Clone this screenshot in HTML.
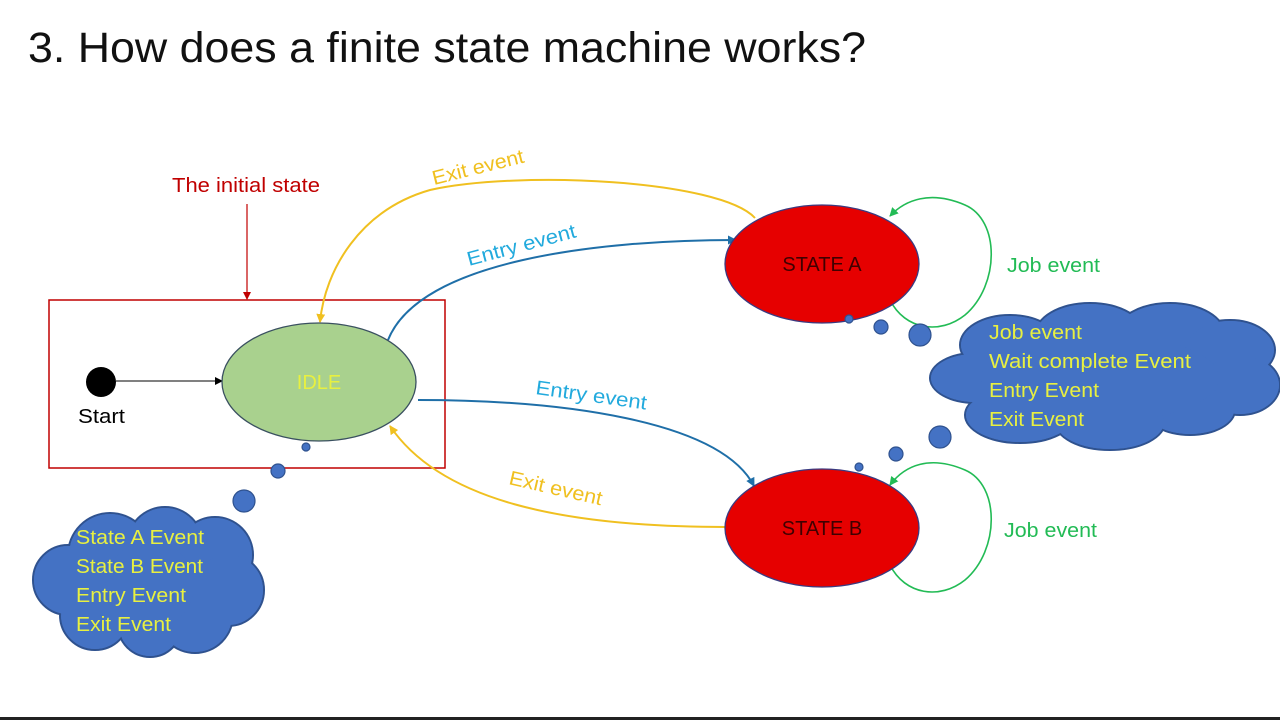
<!DOCTYPE html>
<html><head><meta charset="utf-8"><style>
html,body{margin:0;padding:0;background:#fff;}
svg{display:block;font-family:"Liberation Sans",sans-serif;}
</style></head><body>
<svg width="1280" height="720" viewBox="0 0 1280 720" xmlns="http://www.w3.org/2000/svg">
<defs>
<marker id="ab" markerWidth="8" markerHeight="8" refX="7" refY="4" orient="auto" markerUnits="userSpaceOnUse"><path d="M0,0 L8,4 L0,8z" fill="#000"/></marker>
<marker id="ar" markerWidth="8" markerHeight="8" refX="7" refY="4" orient="auto" markerUnits="userSpaceOnUse"><path d="M0,0 L8,4 L0,8z" fill="#c00000"/></marker>
<marker id="ay" markerWidth="9" markerHeight="9" refX="8" refY="4.5" orient="auto" markerUnits="userSpaceOnUse"><path d="M0,0 L9,4.5 L0,9z" fill="#f0c020"/></marker>
<marker id="au" markerWidth="9" markerHeight="9" refX="8" refY="4.5" orient="auto" markerUnits="userSpaceOnUse"><path d="M0,0 L9,4.5 L0,9z" fill="#1f6fa8"/></marker>
<marker id="ag" markerWidth="9" markerHeight="9" refX="8" refY="4.5" orient="auto" markerUnits="userSpaceOnUse"><path d="M0,0 L9,4.5 L0,9z" fill="#22bb55"/></marker>
</defs>
<text x="28" y="62" font-size="43" fill="#111" textLength="838" lengthAdjust="spacingAndGlyphs">3. How does a finite state machine works?</text>

<text x="172" y="192" font-size="20" fill="#c00000" textLength="148" lengthAdjust="spacingAndGlyphs">The initial state</text>
<line x1="247" y1="204" x2="247" y2="299" stroke="#c00000" stroke-width="1.2" marker-end="url(#ar)"/>
<rect x="49" y="300" width="396" height="168" fill="none" stroke="#c00000" stroke-width="1.5"/>

<path d="M755,218 C720,180 520,170 430,190 C360,210 325,270 320,322" fill="none" stroke="#f0c020" stroke-width="2" marker-end="url(#ay)"/>
<path d="M388,340 C420,260 600,240 736,240" fill="none" stroke="#1f6fa8" stroke-width="2" marker-end="url(#au)"/>
<path d="M418,400 C560,400 720,420 754,486" fill="none" stroke="#1f6fa8" stroke-width="2" marker-end="url(#au)"/>
<path d="M726,527 C560,527 440,500 390,426" fill="none" stroke="#f0c020" stroke-width="2" marker-end="url(#ay)"/>
<path d="M890,300 C905,330 940,335 965,315 C1000,285 1000,220 965,205 C930,190 905,200 890,216" fill="none" stroke="#22bb55" stroke-width="1.6" marker-end="url(#ag)"/>
<path d="M890,565 C905,595 940,600 965,580 C1000,550 1000,485 965,470 C930,455 905,465 890,485" fill="none" stroke="#22bb55" stroke-width="1.6" marker-end="url(#ag)"/>

<text transform="translate(434,185) rotate(-14)" font-size="20" fill="#f0c020" textLength="94" lengthAdjust="spacingAndGlyphs">Exit event</text>
<text transform="translate(469,266) rotate(-15)" font-size="20" fill="#22aadd" textLength="112" lengthAdjust="spacingAndGlyphs">Entry event</text>
<text transform="translate(535,394) rotate(8)" font-size="20" fill="#22aadd" textLength="112" lengthAdjust="spacingAndGlyphs">Entry event</text>
<text transform="translate(508,484) rotate(13)" font-size="20" fill="#f0c020" textLength="95" lengthAdjust="spacingAndGlyphs">Exit event</text>
<text x="1007" y="272" font-size="20" fill="#22bb55" textLength="93" lengthAdjust="spacingAndGlyphs">Job event</text>
<text x="1004" y="537" font-size="20" fill="#22bb55" textLength="93" lengthAdjust="spacingAndGlyphs">Job event</text>

<circle cx="101" cy="382" r="15" fill="#000"/>
<line x1="116" y1="381" x2="222" y2="381" stroke="#000" stroke-width="1" marker-end="url(#ab)"/>
<text x="78" y="423" font-size="20" fill="#000" textLength="47" lengthAdjust="spacingAndGlyphs">Start</text>

<ellipse cx="319" cy="382" rx="97" ry="59" fill="#a9d18e" stroke="#3a5060" stroke-width="1.3"/>
<text x="319" y="389" font-size="20" fill="#e8f040" text-anchor="middle">IDLE</text>
<ellipse cx="822" cy="264" rx="97" ry="59" fill="#e60000" stroke="#3a3a80" stroke-width="1.3"/>
<text x="822" y="271" font-size="20" fill="#400000" text-anchor="middle">STATE A</text>
<ellipse cx="822" cy="528" rx="97" ry="59" fill="#e60000" stroke="#3a3a80" stroke-width="1.3"/>
<text x="822" y="535" font-size="20" fill="#400000" text-anchor="middle">STATE B</text>

<g fill="#4472c4" stroke="#2f528f" stroke-width="1.2">
<circle cx="306" cy="447" r="4"/><circle cx="278" cy="471" r="7"/><circle cx="244" cy="501" r="11"/>
<circle cx="849" cy="319" r="4"/><circle cx="881" cy="327" r="7"/><circle cx="920" cy="335" r="11"/>
<circle cx="859" cy="467" r="4"/><circle cx="896" cy="454" r="7"/><circle cx="940" cy="437" r="11"/>
</g>

<g stroke="#2f528f" stroke-width="2" fill="#4472c4">
<circle cx="110" cy="555" r="42"/><circle cx="165" cy="545" r="38"/><circle cx="215" cy="555" r="38"/>
<circle cx="228" cy="590" r="36"/><circle cx="195" cy="615" r="38"/><circle cx="150" cy="625" r="32"/>
<circle cx="95" cy="615" r="35"/><circle cx="68" cy="580" r="35"/><circle cx="150" cy="585" r="45"/>
</g>
<g fill="#4472c4">
<circle cx="110" cy="555" r="41"/><circle cx="165" cy="545" r="37"/><circle cx="215" cy="555" r="37"/>
<circle cx="228" cy="590" r="35"/><circle cx="195" cy="615" r="37"/><circle cx="150" cy="625" r="31"/>
<circle cx="95" cy="615" r="34"/><circle cx="68" cy="580" r="34"/><circle cx="150" cy="585" r="44"/>
</g>
<g font-size="20" fill="#e8f040" lengthAdjust="spacingAndGlyphs">
<text x="76" y="544" textLength="128" lengthAdjust="spacingAndGlyphs">State A Event</text>
<text x="76" y="573" textLength="127" lengthAdjust="spacingAndGlyphs">State B Event</text>
<text x="76" y="602" textLength="110" lengthAdjust="spacingAndGlyphs">Entry Event</text>
<text x="76" y="631" textLength="95" lengthAdjust="spacingAndGlyphs">Exit Event</text>
</g>

<g stroke="#2f528f" stroke-width="2" fill="#4472c4">
<ellipse cx="1010" cy="345" rx="50" ry="30"/><ellipse cx="1090" cy="335" rx="55" ry="32"/><ellipse cx="1170" cy="335" rx="55" ry="32"/>
<ellipse cx="1230" cy="350" rx="45" ry="30"/><ellipse cx="1240" cy="385" rx="40" ry="30"/><ellipse cx="1190" cy="410" rx="45" ry="25"/>
<ellipse cx="1110" cy="422" rx="55" ry="28"/><ellipse cx="1020" cy="415" rx="55" ry="28"/><ellipse cx="975" cy="378" rx="45" ry="25"/>
<ellipse cx="1100" cy="378" rx="120" ry="45"/>
</g>
<g fill="#4472c4">
<ellipse cx="1010" cy="345" rx="49" ry="29"/><ellipse cx="1090" cy="335" rx="54" ry="31"/><ellipse cx="1170" cy="335" rx="54" ry="31"/>
<ellipse cx="1230" cy="350" rx="44" ry="29"/><ellipse cx="1240" cy="385" rx="39" ry="29"/><ellipse cx="1190" cy="410" rx="44" ry="24"/>
<ellipse cx="1110" cy="422" rx="54" ry="27"/><ellipse cx="1020" cy="415" rx="54" ry="27"/><ellipse cx="975" cy="378" rx="44" ry="24"/>
<ellipse cx="1100" cy="378" rx="119" ry="44"/>
</g>
<g font-size="20" fill="#e8f040">
<text x="989" y="339" textLength="93" lengthAdjust="spacingAndGlyphs">Job event</text>
<text x="989" y="368" textLength="202" lengthAdjust="spacingAndGlyphs">Wait complete Event</text>
<text x="989" y="397" textLength="110" lengthAdjust="spacingAndGlyphs">Entry Event</text>
<text x="989" y="426" textLength="95" lengthAdjust="spacingAndGlyphs">Exit Event</text>
</g>

<rect x="0" y="717" width="1280" height="3" fill="#222"/>
</svg>
</body></html>
